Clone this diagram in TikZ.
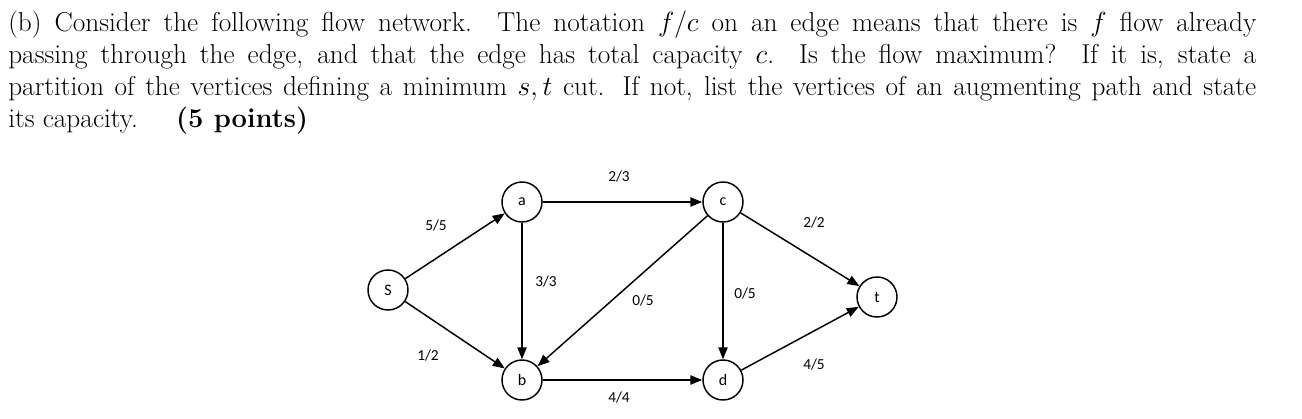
\documentclass[tikz,border=0pt]{standalone}
\usepackage{fontspec}
\newfontfamily\carl{Carlito}
\usetikzlibrary{arrows.meta}
\tikzset{vert/.style={circle,draw,line width=1.1pt,minimum size=30pt,inner sep=0pt,font=\carl\fontsize{12}{14}\selectfont},
edge/.style={line width=1.1pt,-{Triangle[length=9pt,width=7pt]}},
lab/.style={font=\carl\fontsize{11.5}{13}\selectfont}}
\begin{document}
\begin{tikzpicture}[x=0.75pt,y=-0.75pt]
\useasboundingbox (0,0) rectangle (1302,418);
\node[anchor=north west,inner sep=0pt,text width=936pt,align=justify,font=\fontsize{20.5}{24}\selectfont] (txt) at (8,11)
{(b) Consider the following flow network. The notation $f/c$ on an edge means that there is $f$ flow already\linebreak passing through the edge, and that the edge has total capacity $c$. Is the flow maximum? If it is, state a\linebreak partition of the vertices defining a minimum $s,t$ cut. If not, list the vertices of an augmenting path and state\linebreak its capacity. \quad\textbf{(5 points)}};
\node[vert] (s) at (388,290) {S};
\node[vert] (a) at (522,202) {a};
\node[vert] (c) at (723,202) {c};
\node[vert] (b) at (522,380) {b};
\node[vert] (d) at (723,380) {d};
\node[vert] (t) at (877,297) {t};
\draw[edge] (s) -- (a);
\draw[edge] (s) -- (b);
\draw[edge] (a) -- (c);
\draw[edge] (a) -- (b);
\draw[edge] (c) -- (b);
\draw[edge] (c) -- (d);
\draw[edge] (c) -- (t);
\draw[edge] (b) -- (d);
\draw[edge] (d) -- (t);
\node[lab] (l1) at (619,176) {2/3};
\node[lab] (l2) at (436,225) {5/5};
\node[lab] (l3) at (814,222) {2/2};
\node[lab] (l4) at (546,281) {3/3};
\node[lab] (l5) at (643,300) {0/5};
\node[lab] (l6) at (745,293) {0/5};
\node[lab] (l7) at (428,355) {1/2};
\node[lab] (l8) at (814,364) {4/5};
\node[lab] (l9) at (619,397) {4/4};
\end{tikzpicture}
\end{document}
